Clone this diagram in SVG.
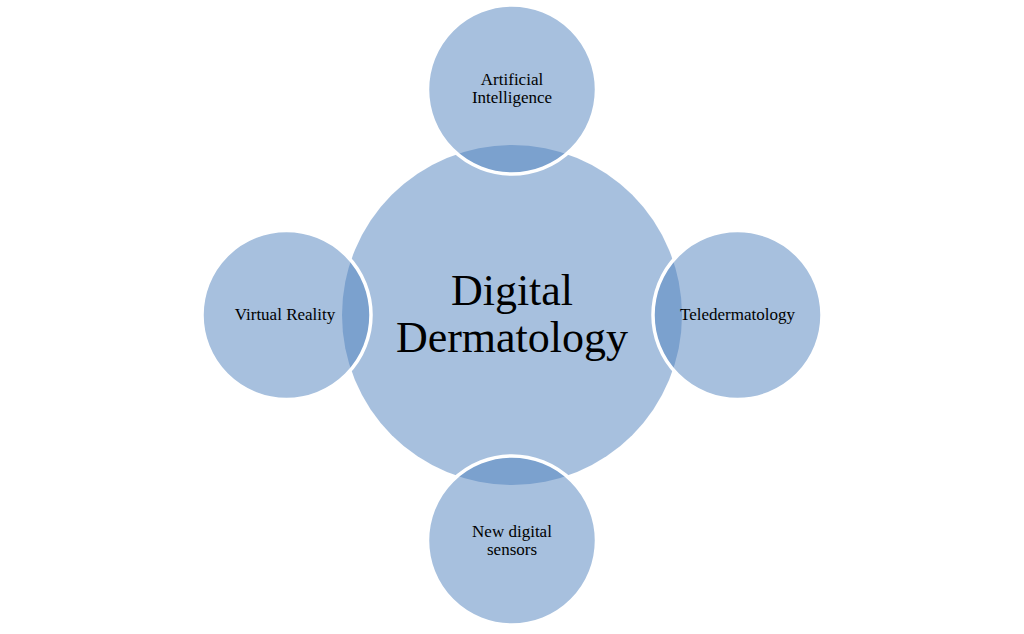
<svg xmlns="http://www.w3.org/2000/svg" width="1024" height="634" viewBox="0 0 1024 634">
<style>
.c{fill:#4F81BD;fill-opacity:0.5}
.s{fill:#4F81BD;fill-opacity:0.5;stroke:#FFFFFF;stroke-width:3.5}
.t{font-family:"Liberation Serif","Times New Roman",serif;font-size:17px;fill:#000;text-anchor:middle}
.big{font-family:"Liberation Serif","Times New Roman",serif;font-size:44px;fill:#000;text-anchor:middle}
</style>
<rect width="1024" height="634" fill="#FFFFFF"/>
<g id="connectors"></g>
<g id="center">
<circle class="c" cx="512" cy="315" r="170"/>
<text class="big" x="512" y="305">Digital</text>
<text class="big" x="512" y="352">Dermatology</text>
</g>
<g id="ai">
<circle class="s" cx="512" cy="89.5" r="84.5"/>
<text class="t" x="512" y="85">Artificial</text>
<text class="t" x="512" y="103">Intelligence</text>
</g>
<g id="teledermatology">
<circle class="s" cx="737.5" cy="315" r="84.5"/>
<text class="t" x="737.5" y="320">Teledermatology</text>
</g>
<g id="sensors">
<circle class="s" cx="512" cy="540.5" r="84.5"/>
<text class="t" x="512" y="537">New digital</text>
<text class="t" x="512" y="555">sensors</text>
</g>
<g id="vr">
<circle class="s" cx="286.5" cy="315" r="84.5"/>
<text class="t" x="285" y="320">Virtual Reality</text>
</g>
</svg>
